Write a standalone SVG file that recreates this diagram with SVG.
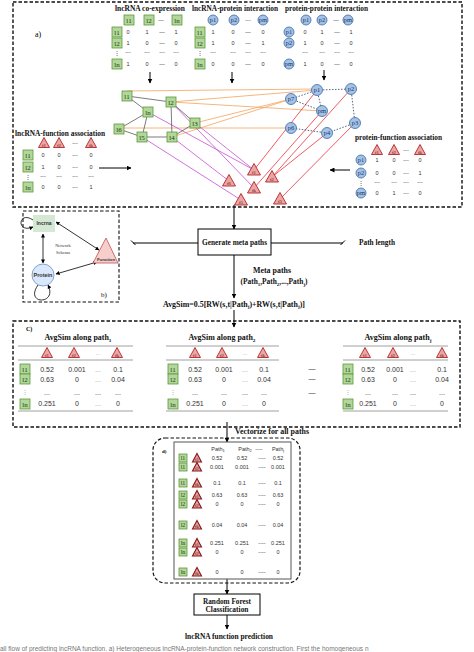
<svg xmlns="http://www.w3.org/2000/svg" width="474" height="652" viewBox="0 0 474 652">
<style>
.g{fill:#b3d69a;stroke:#5a9b3b;stroke-width:0.8}
.p{fill:#a3c2e6;stroke:#3b6aa6;stroke-width:0.8}
.f{fill:#eba5a5;stroke:#b32525;stroke-width:0.9}
.fd{fill:#e3a0a0;stroke:#8a1616;stroke-width:1.1}
.lt{font-family:"Liberation Serif",serif;font-size:7px;text-anchor:middle;fill:#1d3b12}
.lts{font-family:"Liberation Serif",serif;font-size:6px;text-anchor:middle;fill:#1d3b12}
.pt{font-family:"Liberation Serif",serif;font-size:6.5px;text-anchor:middle;fill:#1a3560}
.ft{font-family:"Liberation Serif",serif;font-size:4.8px;text-anchor:middle;fill:#5c1010}
.ttl{font-family:"Liberation Serif",serif;font-weight:bold;font-size:7.5px;text-anchor:middle;fill:#111}
.sub{font-size:5px}
.v{font-family:"Liberation Sans",sans-serif;font-size:5.5px;text-anchor:middle;fill:#333}
.cv{font-family:"Liberation Sans",sans-serif;font-size:7px;text-anchor:middle;fill:#333}
.gr{fill:#999}
.dash{fill:none;stroke:#111;stroke-width:1.4;stroke-dasharray:3.5,2}
.k{stroke:#000;stroke-width:1;fill:none}
.ne{stroke:#444;stroke-width:0.7}
.or{stroke:#f2a35e;stroke-width:0.8}
.mg{stroke:#c64fd0;stroke-width:0.8}
.rd{stroke:#e8323c;stroke-width:0.8}
.pd{stroke:#2f3f55;stroke-width:0.8;stroke-dasharray:1.5,1.5}
.tl{stroke:#888;stroke-width:0.8}
</style>
<defs>
<marker id="ah" viewBox="0 0 10 10" refX="9" refY="5" markerWidth="5" markerHeight="5" orient="auto-start-reverse"><path d="M0,0 L10,5 L0,10 z" fill="#000"/></marker>
<rect id="sq" x="-5" y="-5" width="10" height="10"/>
<rect id="sqs" x="-4" y="-4" width="8" height="8"/>
<circle id="pc" r="5"/>
<circle id="pcn" r="5.5"/>
<path id="tr" d="M0,-5.5 L5.5,4.5 L-5.5,4.5 Z"/>
<path id="trn" d="M0,-6.5 L6.5,5 L-6.5,5 Z"/>
<path id="trs" d="M0,-4.5 L4.5,4 L-4.5,4 Z"/>
</defs>
<rect width="474" height="652" fill="#fff"/>

<!-- section frames -->
<rect class="dash" x="13" y="2" width="449" height="205"/>
<text x="35" y="37" font-family="Liberation Serif,serif" font-size="8">a)</text>

<!-- matrix: lncRNA co-expression -->
<g id="mat-coexp">
<text class="ttl" x="150" y="10.5" textLength="70" lengthAdjust="spacingAndGlyphs">lncRNA co-expression</text>
<use href="#sq" class="g" x="129" y="20"/><text class="lt" x="129" y="22.5">l1</text>
<use href="#sq" class="g" x="149" y="20"/><text class="lt" x="149" y="22.5">l2</text>
<text class="v" x="161" y="22">—</text>
<use href="#sq" class="g" x="177" y="20"/><text class="lt" x="177" y="22.5">ln</text>
<use href="#sq" class="g" x="117" y="32"/><text class="lt" x="117" y="34.5">l1</text>
<use href="#sq" class="g" x="117" y="43"/><text class="lt" x="117" y="45.5">l2</text>
<text class="v" x="117" y="55">⋮</text>
<use href="#sq" class="g" x="117" y="64"/><text class="lt" x="117" y="66.5">ln</text>
<text class="v" x="128" y="34">0</text><text class="v" x="147" y="34">1</text><text class="v" x="162" y="34">—</text><text class="v" x="176" y="34">1</text>
<text class="v" x="128" y="45">1</text><text class="v" x="147" y="45">0</text><text class="v" x="162" y="45">—</text><text class="v" x="176" y="45">0</text>
<text class="v" x="128" y="54">---</text><text class="v" x="147" y="54">---</text><text class="v" x="162" y="54">---</text><text class="v" x="176" y="54">---</text>
<text class="v" x="128" y="66">1</text><text class="v" x="147" y="66">0</text><text class="v" x="162" y="66">—</text><text class="v" x="176" y="66">0</text>
</g>

<!-- matrix: lncRNA-protein interaction -->
<g id="mat-lp">
<text class="ttl" x="235" y="10.5" textLength="86" lengthAdjust="spacingAndGlyphs">lncRNA-protein interaction</text>
<use href="#pc" class="p" x="213" y="20"/><text class="pt" x="213" y="22.3">p1</text>
<use href="#pc" class="p" x="234" y="20"/><text class="pt" x="234" y="22.3">p2</text>
<text class="v" x="248" y="22">---</text>
<use href="#pc" class="p" x="263" y="20"/><text class="pt" x="263" y="22.3">pm</text>
<use href="#sq" class="g" x="200" y="32"/><text class="lt" x="200" y="34.5">l1</text>
<use href="#sq" class="g" x="200" y="43"/><text class="lt" x="200" y="45.5">l2</text>
<text class="v" x="200" y="55">⋮</text>
<use href="#sq" class="g" x="200" y="64"/><text class="lt" x="200" y="66.5">ln</text>
<text class="v" x="213" y="34">1</text><text class="v" x="233" y="34">0</text><text class="v" x="248" y="34">—</text><text class="v" x="263" y="34">0</text>
<text class="v" x="213" y="45">1</text><text class="v" x="233" y="45">0</text><text class="v" x="248" y="45">—</text><text class="v" x="263" y="45">1</text>
<text class="v" x="213" y="54">---</text><text class="v" x="233" y="54">---</text><text class="v" x="248" y="54">---</text><text class="v" x="263" y="54">---</text>
<text class="v" x="213" y="66">0</text><text class="v" x="233" y="66">0</text><text class="v" x="248" y="66">—</text><text class="v" x="263" y="66">0</text>
</g>

<!-- matrix: protein-protein interaction -->
<g id="mat-pp">
<text class="ttl" x="326.5" y="10.5" textLength="83" lengthAdjust="spacingAndGlyphs">protein-protein interaction</text>
<use href="#pc" class="p" x="306" y="20"/><text class="pt" x="306" y="22.3">p1</text>
<use href="#pc" class="p" x="322" y="20"/><text class="pt" x="322" y="22.3">p2</text>
<text class="v" x="336" y="22">—</text>
<use href="#pc" class="p" x="348" y="20"/><text class="pt" x="348" y="22.3">pm</text>
<use href="#pc" class="p" x="289" y="32"/><text class="pt" x="289" y="34.3">p1</text>
<use href="#pc" class="p" x="289" y="43"/><text class="pt" x="289" y="45.3">p2</text>
<use href="#pc" class="p" x="289" y="64"/><text class="pt" x="289" y="66.3">pm</text>
<text class="v" x="305" y="34">0</text><text class="v" x="322" y="34">1</text><text class="v" x="337" y="34">—</text><text class="v" x="351" y="34">1</text>
<text class="v" x="305" y="45">1</text><text class="v" x="322" y="45">0</text><text class="v" x="337" y="45">—</text><text class="v" x="351" y="45">0</text>
<text class="v" x="305" y="54">---</text><text class="v" x="322" y="54">---</text><text class="v" x="337" y="54">---</text><text class="v" x="351" y="54">---</text>
<text class="v" x="305" y="66">1</text><text class="v" x="322" y="66">0</text><text class="v" x="337" y="66">—</text><text class="v" x="351" y="66">0</text>
</g>

<!-- matrix: lncRNA-function association -->
<g id="mat-lf">
<text class="ttl" x="60" y="135.5" textLength="90" lengthAdjust="spacingAndGlyphs">lncRNA-function association</text>
<use href="#tr" class="f" x="44" y="143"/><text class="ft" x="44" y="146.5">f1</text>
<use href="#tr" class="f" x="59" y="143"/><text class="ft" x="59" y="146.5">f2</text>
<text class="v" x="75" y="145">---</text>
<use href="#tr" class="f" x="91" y="143"/><text class="ft" x="91" y="146.5">fk</text>
<use href="#sq" class="g" x="28" y="155"/><text class="lt" x="28" y="157.5">l1</text>
<use href="#sq" class="g" x="28" y="167"/><text class="lt" x="28" y="169.5">l2</text>
<text class="v" x="28" y="179">⋮</text>
<use href="#sq" class="g" x="28" y="187"/><text class="lt" x="28" y="189.5">ln</text>
<text class="v" x="43" y="157">0</text><text class="v" x="59" y="157">0</text><text class="v" x="75" y="157">---</text><text class="v" x="91" y="157">0</text>
<text class="v" x="43" y="169">1</text><text class="v" x="59" y="169">0</text><text class="v" x="75" y="169">---</text><text class="v" x="91" y="169">0</text>
<text class="v" x="43" y="178">---</text><text class="v" x="59" y="178">---</text><text class="v" x="75" y="178">---</text><text class="v" x="91" y="178">---</text>
<text class="v" x="43" y="189">0</text><text class="v" x="59" y="189">0</text><text class="v" x="75" y="189">---</text><text class="v" x="91" y="189">1</text>
</g>

<!-- matrix: protein-function association -->
<g id="mat-pf">
<text class="ttl" x="398.5" y="139.5" textLength="87" lengthAdjust="spacingAndGlyphs">protein-function association</text>
<use href="#tr" class="f" x="377" y="150"/><text class="ft" x="377" y="153.5">f1</text>
<use href="#tr" class="f" x="394" y="150"/><text class="ft" x="394" y="153.5">f2</text>
<text class="v" x="406" y="152">---</text>
<use href="#tr" class="f" x="420" y="150"/><text class="ft" x="420" y="153.5">fk</text>
<use href="#pc" class="p" x="361" y="160"/><text class="pt" x="361" y="162.3">p1</text>
<use href="#pc" class="p" x="361" y="173"/><text class="pt" x="361" y="175.3">p2</text>
<text class="v" x="361" y="185">⋮</text>
<use href="#pc" class="p" x="361" y="193"/><text class="pt" x="361" y="195.3">pm</text>
<text class="v" x="377" y="162">1</text><text class="v" x="394" y="162">0</text><text class="v" x="406" y="162">---</text><text class="v" x="420" y="162">0</text>
<text class="v" x="377" y="175">0</text><text class="v" x="394" y="175">0</text><text class="v" x="406" y="175">---</text><text class="v" x="420" y="175">1</text>
<text class="v" x="377" y="184">---</text><text class="v" x="394" y="184">---</text><text class="v" x="406" y="184">---</text><text class="v" x="420" y="184">---</text>
<text class="v" x="377" y="195">0</text><text class="v" x="394" y="195">1</text><text class="v" x="406" y="195">---</text><text class="v" x="420" y="195">0</text>
</g>

<!-- connectors -->
<g id="connectors">
<line class="k" x1="150" y1="72" x2="150" y2="83" marker-end="url(#ah)"/>
<line class="k" x1="232" y1="72" x2="232" y2="83" marker-end="url(#ah)"/>
<line class="k" x1="324" y1="70" x2="324" y2="80" marker-end="url(#ah)"/>
<line class="k" x1="99" y1="168" x2="131" y2="168" marker-end="url(#ah)"/>
<line class="k" x1="350" y1="170" x2="330" y2="170" marker-end="url(#ah)"/>
<!-- orange lncRNA-protein -->
<line class="or" x1="127" y1="91" x2="317" y2="89"/>
<line class="or" x1="171" y1="102" x2="317" y2="90"/>
<line class="or" x1="171" y1="102" x2="322" y2="111"/>
<line class="or" x1="195" y1="123" x2="291" y2="99"/>
<line class="or" x1="172" y1="137" x2="291" y2="99"/>
<line class="or" x1="119" y1="128" x2="291" y2="128"/>
<!-- magenta lncRNA-function -->
<line class="mg" x1="148" y1="112" x2="254" y2="170"/>
<line class="mg" x1="171" y1="102" x2="254" y2="188"/>
<line class="mg" x1="195" y1="123" x2="254" y2="170"/>
<line class="mg" x1="172" y1="137" x2="229" y2="181"/>
<line class="mg" x1="142" y1="137" x2="241" y2="200"/>
<!-- red protein-function -->
<line class="rd" x1="317" y1="90" x2="254" y2="170"/>
<line class="rd" x1="322" y1="111" x2="254" y2="188"/>
<line class="rd" x1="351" y1="89" x2="272" y2="177"/>
<line class="rd" x1="327" y1="133" x2="272" y2="177"/>
<line class="rd" x1="355" y1="123" x2="280" y2="199"/>
<!-- lncRNA-lncRNA -->
<line class="ne" x1="127" y1="96" x2="171" y2="102"/>
<line class="ne" x1="127" y1="96" x2="148" y2="112"/>
<line class="ne" x1="148" y1="112" x2="119" y2="129"/>
<line class="ne" x1="148" y1="112" x2="142" y2="137"/>
<line class="ne" x1="119" y1="129" x2="142" y2="137"/>
<line class="ne" x1="142" y1="137" x2="172" y2="137"/>
<line class="ne" x1="171" y1="102" x2="172" y2="137"/>
<line class="ne" x1="171" y1="102" x2="195" y2="123"/>
<line class="ne" x1="195" y1="123" x2="172" y2="137"/>
<!-- protein-protein -->
<line class="pd" x1="317" y1="90" x2="351" y2="89"/>
<line class="pd" x1="317" y1="90" x2="291" y2="99"/>
<line class="pd" x1="317" y1="90" x2="322" y2="111"/>
<line class="pd" x1="291" y1="99" x2="322" y2="111"/>
<line class="pd" x1="351" y1="89" x2="355" y2="123"/>
<line class="pd" x1="355" y1="123" x2="327" y2="133"/>
<line class="pd" x1="327" y1="133" x2="291" y2="128"/>
<!-- flow -->
<line class="k" x1="234" y1="205" x2="234" y2="229" marker-end="url(#ah)"/>
<line class="k" x1="198" y1="243" x2="133" y2="243"/>
<line class="k" x1="131" y1="240.5" x2="135.5" y2="245"/>
<line class="k" x1="271" y1="243" x2="343" y2="243"/>
<line class="k" x1="340.5" y1="245" x2="345" y2="240.5"/>
<line class="k" x1="234" y1="255" x2="234" y2="298" marker-end="url(#ah)"/>
<line class="k" x1="234" y1="310" x2="234" y2="327" marker-end="url(#ah)"/>
<line class="k" x1="227" y1="422" x2="227" y2="442" marker-end="url(#ah)"/>
<line class="k" x1="227" y1="579" x2="227" y2="594" marker-end="url(#ah)"/>
<line class="k" x1="227" y1="615" x2="227" y2="629" marker-end="url(#ah)"/>
</g>

<!-- network nodes -->
<g id="n-l1"><use href="#sq" class="g" x="127" y="96"/><text class="lt" x="127" y="98.5">l1</text></g>
<g id="n-l2"><use href="#sq" class="g" x="171" y="102"/><text class="lt" x="171" y="104.5">l2</text></g>
<g id="n-ln"><use href="#sq" class="g" x="148" y="112"/><text class="lt" x="148" y="114.5">ln</text></g>
<g id="n-l3"><use href="#sq" class="g" x="195" y="123"/><text class="lt" x="195" y="125.5">l3</text></g>
<g id="n-l6"><use href="#sq" class="g" x="119" y="129"/><text class="lt" x="119" y="131.5">l6</text></g>
<g id="n-l5"><use href="#sq" class="g" x="142" y="137"/><text class="lt" x="142" y="139.5">l5</text></g>
<g id="n-l4"><use href="#sq" class="g" x="172" y="137"/><text class="lt" x="172" y="139.5">l4</text></g>
<g id="n-p1"><use href="#pcn" class="p" x="317" y="90"/><text class="pt" x="317" y="92.3">p1</text></g>
<g id="n-p2"><use href="#pcn" class="p" x="351" y="89"/><text class="pt" x="351" y="91.3">p2</text></g>
<g id="n-p7"><use href="#pcn" class="p" x="291" y="99"/><text class="pt" x="291" y="101.3">p7</text></g>
<g id="n-pm"><use href="#pcn" class="p" x="322" y="111"/><text class="pt" x="322" y="113.3">pm</text></g>
<g id="n-p6"><use href="#pcn" class="p" x="291" y="128"/><text class="pt" x="291" y="130.3">p6</text></g>
<g id="n-p4"><use href="#pcn" class="p" x="327" y="133"/><text class="pt" x="327" y="135.3">p4</text></g>
<g id="n-p3"><use href="#pcn" class="p" x="355" y="123"/><text class="pt" x="355" y="125.3">p3</text></g>
<g id="n-f1"><use href="#trn" class="f" x="254" y="170"/><text class="ft" x="254" y="174">f1</text></g>
<g id="n-f2"><use href="#trn" class="f" x="272" y="177"/><text class="ft" x="272" y="181">f2</text></g>
<g id="n-f6"><use href="#trn" class="f" x="229" y="181"/><text class="ft" x="229" y="185">f6</text></g>
<g id="n-fk"><use href="#trn" class="f" x="254" y="188"/><text class="ft" x="254" y="192">fk</text></g>
<g id="n-f5"><use href="#trn" class="f" x="241" y="200"/><text class="ft" x="241" y="204">f5</text></g>
<g id="n-f3"><use href="#trn" class="f" x="280" y="199"/><text class="ft" x="280" y="203">f3</text></g>

<!-- b) network schema -->
<g id="schema">
<rect class="dash" x="23" y="211" width="96" height="91" style="stroke-width:1.1"/>
<path d="M33,220 C18,210 16,234 33,227" class="k" style="stroke-width:0.8" marker-end="url(#ah)"/>
<path d="M38,285 C24,305 58,305 48,285" class="k" style="stroke-width:0.8" marker-end="url(#ah)"/>
<line class="k" x1="43" y1="234" x2="43" y2="263" style="stroke-width:0.8" marker-start="url(#ah)" marker-end="url(#ah)"/>
<line class="k" x1="56" y1="222" x2="99" y2="250" style="stroke-width:0.8" marker-start="url(#ah)" marker-end="url(#ah)"/>
<line class="k" x1="56" y1="274" x2="97" y2="262" style="stroke-width:0.8" marker-start="url(#ah)" marker-end="url(#ah)"/>
<g id="s-lncrna"><rect x="33" y="215" width="22" height="17" fill="#d5e8d4"/><text x="44" y="225" font-family="Liberation Sans,sans-serif" font-weight="bold" font-size="5" text-anchor="middle" fill="#333">lncrna</text></g>
<g id="s-protein"><circle cx="43" cy="275" r="11" fill="#dae8fc" stroke="#6c8ebf" stroke-width="0.8"/><text x="43" y="277" font-family="Liberation Sans,sans-serif" font-weight="bold" font-size="5.5" text-anchor="middle" fill="#333">Protein</text></g>
<g id="s-function"><path d="M106,238 L118,263 L93,263 Z" fill="#f8cecc" stroke="#b85450" stroke-width="0.8"/><text x="106" y="261" font-family="Liberation Sans,sans-serif" font-weight="bold" font-size="4.3" text-anchor="middle" fill="#333">Function</text></g>
<text x="63" y="247" font-family="Liberation Serif,serif" font-size="4.5" text-anchor="middle" fill="#333">Network</text>
<text x="63" y="254" font-family="Liberation Serif,serif" font-size="4.5" text-anchor="middle" fill="#333">Schema</text>
<text x="104" y="297" font-family="Liberation Serif,serif" font-size="7" text-anchor="middle">b)</text>
</g>

<!-- generate meta paths -->
<g id="generate">
<rect x="198" y="229" width="73" height="26" fill="#fff" stroke="#000" stroke-width="1"/>
<text class="ttl" x="234.5" y="245" textLength="65" lengthAdjust="spacingAndGlyphs">Generate meta paths</text>
</g>
<text class="ttl" x="359" y="245" style="text-anchor:start" textLength="36" lengthAdjust="spacingAndGlyphs">Path length</text>
<text class="ttl" x="272" y="273" textLength="38" lengthAdjust="spacingAndGlyphs">Meta paths</text>
<text class="ttl" x="274" y="284" textLength="67" lengthAdjust="spacingAndGlyphs">(Path<tspan class="sub" dy="1.5">1</tspan><tspan dy="-1.5">,Path</tspan><tspan class="sub" dy="1.5">2</tspan><tspan dy="-1.5">,...,Path</tspan><tspan class="sub" dy="1.5">j</tspan><tspan dy="-1.5">)</tspan></text>
<text class="ttl" x="234" y="306.5" textLength="142" lengthAdjust="spacingAndGlyphs">AvgSim=0.5[RW(s,t|Path<tspan class="sub" dy="1.5">j</tspan><tspan dy="-1.5">)+RW(s,t|Path</tspan><tspan class="sub" dy="1.5">j</tspan><tspan dy="-1.5">)]</tspan></text>

<!-- c) -->
<rect class="dash" x="13" y="321" width="447" height="106"/>
<text x="26" y="331" font-family="Liberation Serif,serif" font-weight="bold" font-size="6">C)</text>

<g id="table1">
<text class="ttl" x="78" y="340" textLength="67" lengthAdjust="spacingAndGlyphs">AvgSim along path<tspan class="sub" dy="1.5">1</tspan></text>
<line class="tl" x1="18" y1="346" x2="133" y2="346"/><line class="tl" x1="18" y1="360" x2="133" y2="360"/><line class="tl" x1="18" y1="411" x2="133" y2="411"/>
<use href="#tr" class="f" x="47" y="353"/><text class="ft" x="47" y="356.5">f1</text>
<use href="#tr" class="f" x="74" y="353"/><text class="ft" x="74" y="356.5">f2</text>
<text class="v gr" x="98" y="355">...</text>
<use href="#tr" class="f" x="117" y="353"/><text class="ft" x="117" y="356.5">fk</text>
<use href="#sq" class="g" x="25" y="369"/><text class="lt" x="25" y="371.5">l1</text>
<use href="#sq" class="g" x="25" y="379"/><text class="lt" x="25" y="381.5">l2</text>
<text class="v gr" x="25" y="394">⋮</text>
<use href="#sq" class="g" x="25" y="404"/><text class="lt" x="25" y="406.5">ln</text>
<text class="cv" x="47" y="372">0.52</text><text class="cv" x="77" y="372">0.001</text><text class="cv gr" x="98" y="372">...</text><text class="cv" x="118" y="372">0.1</text>
<text class="cv" x="47" y="382">0.63</text><text class="cv" x="77" y="382">0</text><text class="cv gr" x="98" y="382">...</text><text class="cv" x="118" y="382">0.04</text>
<text class="cv" x="47" y="395">...</text><text class="cv" x="77" y="395">...</text><text class="cv" x="98" y="395">...</text><text class="cv" x="118" y="395">...</text>
<text class="cv" x="47" y="406">0.251</text><text class="cv" x="77" y="406">0</text><text class="cv gr" x="98" y="406">...</text><text class="cv" x="118" y="406">0</text>
</g>

<g id="table2">
<text class="ttl" x="222" y="340" textLength="67" lengthAdjust="spacingAndGlyphs">AvgSim along path<tspan class="sub" dy="1.5">2</tspan></text>
<line class="tl" x1="166" y1="346" x2="279" y2="346"/><line class="tl" x1="166" y1="360" x2="279" y2="360"/><line class="tl" x1="166" y1="411" x2="279" y2="411"/>
<use href="#tr" class="f" x="195" y="353"/><text class="ft" x="195" y="356.5">f1</text>
<use href="#tr" class="f" x="222" y="353"/><text class="ft" x="222" y="356.5">f2</text>
<text class="v gr" x="245" y="355">...</text>
<use href="#tr" class="f" x="263" y="353"/><text class="ft" x="263" y="356.5">fk</text>
<use href="#sq" class="g" x="173" y="369"/><text class="lt" x="173" y="371.5">l1</text>
<use href="#sq" class="g" x="173" y="379"/><text class="lt" x="173" y="381.5">l2</text>
<text class="v gr" x="173" y="394">⋮</text>
<use href="#sq" class="g" x="173" y="404"/><text class="lt" x="173" y="406.5">ln</text>
<text class="cv" x="195" y="372">0.52</text><text class="cv" x="224" y="372">0.001</text><text class="cv gr" x="245" y="372">...</text><text class="cv" x="264" y="372">0.1</text>
<text class="cv" x="195" y="382">0.63</text><text class="cv" x="224" y="382">0</text><text class="cv gr" x="245" y="382">...</text><text class="cv" x="264" y="382">0.04</text>
<text class="cv" x="195" y="395">...</text><text class="cv" x="224" y="395">...</text><text class="cv" x="245" y="395">...</text><text class="cv" x="264" y="395">...</text>
<text class="cv" x="195" y="406">0.251</text><text class="cv" x="224" y="406">0</text><text class="cv gr" x="245" y="406">...</text><text class="cv" x="264" y="406">0</text>
</g>

<text class="cv" x="312" y="371">—</text><text class="cv" x="312" y="381">—</text><text class="cv" x="312" y="395">—</text>

<g id="table3">
<text class="ttl" x="398" y="340" textLength="67" lengthAdjust="spacingAndGlyphs">AvgSim along path<tspan class="sub" dy="1.5">j</tspan></text>
<line class="tl" x1="343" y1="346" x2="448" y2="346"/><line class="tl" x1="343" y1="360" x2="448" y2="360"/><line class="tl" x1="343" y1="411" x2="448" y2="411"/>
<use href="#tr" class="f" x="365" y="353"/><text class="ft" x="365" y="356.5">f1</text>
<use href="#tr" class="f" x="393" y="353"/><text class="ft" x="393" y="356.5">f2</text>
<text class="v gr" x="413" y="355">...</text>
<use href="#tr" class="f" x="442" y="353"/><text class="ft" x="442" y="356.5">fk</text>
<use href="#sq" class="g" x="348" y="369"/><text class="lt" x="348" y="371.5">l1</text>
<use href="#sq" class="g" x="348" y="379"/><text class="lt" x="348" y="381.5">l2</text>
<text class="v gr" x="348" y="394">⋮</text>
<use href="#sq" class="g" x="348" y="404"/><text class="lt" x="348" y="406.5">ln</text>
<text class="cv" x="368" y="372">0.52</text><text class="cv" x="395" y="372">0.001</text><text class="cv gr" x="413" y="372">...</text><text class="cv" x="442" y="372">0.1</text>
<text class="cv" x="368" y="382">0.63</text><text class="cv" x="395" y="382">0</text><text class="cv gr" x="413" y="382">...</text><text class="cv" x="442" y="382">0.04</text>
<text class="cv" x="368" y="395">...</text><text class="cv" x="395" y="395">...</text><text class="cv" x="413" y="395">...</text><text class="cv" x="442" y="395">...</text>
<text class="cv" x="368" y="406">0.251</text><text class="cv" x="395" y="406">0</text><text class="cv gr" x="413" y="406">...</text><text class="cv" x="442" y="406">0</text>
</g>

<text class="ttl" x="235" y="434" style="text-anchor:start" textLength="74" lengthAdjust="spacingAndGlyphs">Vectorize for all paths</text>

<!-- d) -->
<g id="vectors">
<rect class="dash" x="153" y="438" width="147" height="145" rx="12" style="stroke-width:1.2"/>
<text x="162" y="453" font-family="Liberation Serif,serif" font-weight="bold" font-size="5">d)</text>
<rect x="174" y="442" width="117" height="137" fill="#fff" stroke="#555" stroke-width="1"/>
<text class="v" x="218" y="451">Path<tspan dy="1.3" font-size="4">1</tspan></text>
<text class="v" x="245" y="451">Path<tspan dy="1.3" font-size="4">2</tspan></text>
<text class="v" x="259" y="451">----</text>
<text class="v" x="278" y="451">Path<tspan dy="1.3" font-size="4">j</tspan></text>

<use href="#sqs" class="g" x="183" y="458"/><text class="lts" x="183" y="460">l1</text><use href="#trs" class="fd" x="197" y="458"/><text class="ft" x="197" y="461">f1</text>
<text class="v" x="217" y="460">0.52</text><text class="v" x="242" y="460">0.52</text><text class="v" x="262" y="460">----</text><text class="v" x="278" y="460">0.52</text>
<use href="#sqs" class="g" x="183" y="467"/><text class="lts" x="183" y="469">l1</text><use href="#trs" class="fd" x="197" y="467"/><text class="ft" x="197" y="470">f2</text>
<text class="v" x="217" y="469">0.001</text><text class="v" x="242" y="469">0.001</text><text class="v" x="262" y="469">----</text><text class="v" x="278" y="469">0.001</text>

<use href="#sqs" class="g" x="183" y="483"/><text class="lts" x="183" y="485">l1</text><use href="#trs" class="fd" x="197" y="483"/><text class="ft" x="197" y="486">fk</text>
<text class="v" x="217" y="485">0.1</text><text class="v" x="242" y="485">0.1</text><text class="v" x="262" y="485">----</text><text class="v" x="278" y="485">0.1</text>
<use href="#sqs" class="g" x="183" y="495"/><text class="lts" x="183" y="497">l2</text><use href="#trs" class="fd" x="197" y="495"/><text class="ft" x="197" y="498">f1</text>
<text class="v" x="217" y="497">0.63</text><text class="v" x="242" y="497">0.63</text><text class="v" x="262" y="497">----</text><text class="v" x="278" y="497">0.63</text>
<use href="#sqs" class="g" x="183" y="504"/><text class="lts" x="183" y="506">l2</text><use href="#trs" class="fd" x="197" y="504"/><text class="ft" x="197" y="507">f2</text>
<text class="v" x="217" y="506">0</text><text class="v" x="242" y="506">0</text><text class="v" x="262" y="506">----</text><text class="v" x="278" y="506">0</text>

<use href="#sqs" class="g" x="183" y="525"/><text class="lts" x="183" y="527">l2</text><use href="#trs" class="fd" x="197" y="525"/><text class="ft" x="197" y="528">fk</text>
<text class="v" x="217" y="527">0.04</text><text class="v" x="242" y="527">0.04</text><text class="v" x="262" y="527">----</text><text class="v" x="278" y="527">0.04</text>

<use href="#sqs" class="g" x="183" y="543"/><text class="lts" x="183" y="545">ln</text><use href="#trs" class="fd" x="197" y="543"/><text class="ft" x="197" y="546">f1</text>
<text class="v" x="217" y="545">0.251</text><text class="v" x="242" y="545">0.251</text><text class="v" x="262" y="545">----</text><text class="v" x="278" y="545">0.251</text>
<use href="#sqs" class="g" x="183" y="552"/><text class="lts" x="183" y="554">ln</text><use href="#trs" class="fd" x="197" y="552"/><text class="ft" x="197" y="555">f2</text>
<text class="v" x="217" y="554">0</text><text class="v" x="242" y="554">0</text><text class="v" x="262" y="554">----</text><text class="v" x="278" y="554">0</text>

<use href="#sqs" class="g" x="183" y="572"/><text class="lts" x="183" y="574">ln</text><use href="#trs" class="fd" x="197" y="572"/><text class="ft" x="197" y="575">fk</text>
<text class="v" x="217" y="574">0</text><text class="v" x="242" y="574">0</text><text class="v" x="262" y="574">----</text><text class="v" x="278" y="574">0</text>
</g>

<g id="rf">
<rect x="194" y="594" width="66" height="21" fill="#fff" stroke="#000" stroke-width="1"/>
<text class="ttl" x="227" y="603.5" textLength="48" lengthAdjust="spacingAndGlyphs">Random Forest</text>
<text class="ttl" x="227" y="612" textLength="43" lengthAdjust="spacingAndGlyphs">Classification</text>
</g>
<text class="ttl" x="229" y="639" textLength="88" lengthAdjust="spacingAndGlyphs">lncRNA function prediction</text>
<text x="0" y="651" font-family="Liberation Sans,sans-serif" font-size="6.5" fill="#777">all flow of predicting lncRNA function. a) Heterogeneous lncRNA-protein-function network construction. First the homogeneous n</text>
</svg>
